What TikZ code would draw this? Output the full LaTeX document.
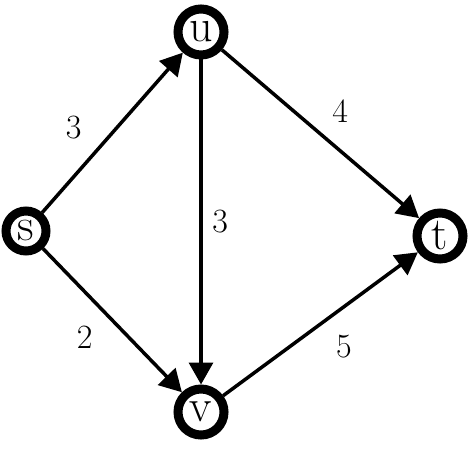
\documentclass[tikz,border=0pt]{standalone}
\usetikzlibrary{arrows.meta}
\begin{document}
\begin{tikzpicture}[x=0.5pt, y=-0.5pt,
  vertex/.style={circle, draw, line width=4.5pt, minimum size=23pt, inner sep=0pt,
    font=\fontsize{23}{23}\selectfont},
  edge/.style={line width=1.75pt, -{Triangle[length=11pt, width=12pt]}},
  weight/.style={inner sep=0pt, font=\fontsize{17}{17}\selectfont}]
\useasboundingbox (0, 0) rectangle (474, 459);
\node[vertex, minimum size=20pt] (s) at (26, 231) {s};
\node[vertex] (u) at (201, 32) {u};
\node[vertex] (v) at (201, 412) {v};
\node[vertex] (t) at (440, 236) {t};
\draw[edge] (s) -- (u) node[weight, pos=0.53, left=16.75pt] {3};
\draw[edge] (s) -- (v) node[weight, pos=0.3, below=16.5pt] {2};
\draw[edge] (u) -- (v) node[weight, pos=0.5, right=4.75pt] {3};
\draw[edge] (u) -- (t) node[weight, pos=0.6, above=13.5pt] {4};
\draw[edge] (v) -- (t) node[weight, pos=0.62, below=13.5pt] {5};
\end{tikzpicture}
\end{document}
